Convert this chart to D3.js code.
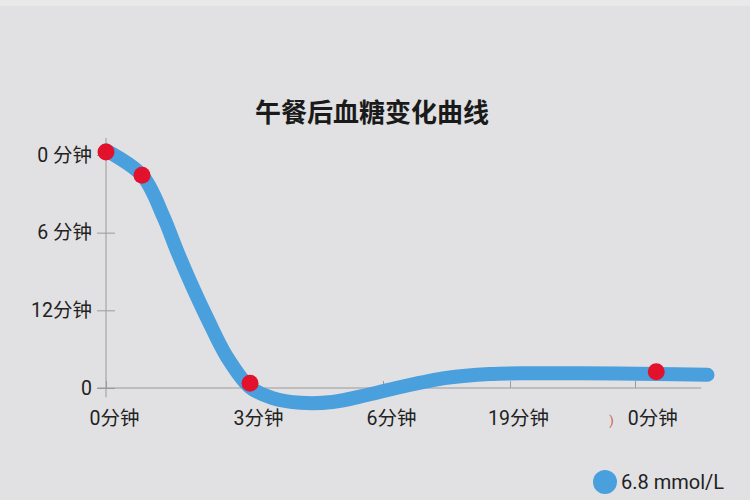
<!DOCTYPE html>
<html>
<head>
<meta charset="utf-8">
<script src="https://cdn.jsdelivr.net/npm/d3@7"></script>
<style>
  body { margin: 0; background: #e1e1e3; }
  svg { display: block; }
  text { font-family: Roboto, "Noto Sans CJK SC", sans-serif; fill: #222; }
</style>
</head>
<body>
<div id="chart"></div>
<script>
// tick labels
var xLabels = ["0分钟", "3分钟", "6分钟", "19分钟", "0分钟"];
var yLabels = ["0", "12分钟", "6 分钟", "0 分钟"];   // bottom to top

// curve (x in tick units, y in tick units)
var curveX = [0, 0.25, 0.40, 0.49, 0.58, 0.70, 0.84, 1.00, 1.17, 1.38, 1.62, 1.88, 2.13, 2.50, 2.84, 3.16, 3.56, 4.18, 4.58];
var curveY = [3.06, 2.74, 2.20, 1.78, 1.39, 0.91, 0.40, 0.01, -0.13, -0.19, -0.18, -0.09, 0.01, 0.13, 0.18, 0.19, 0.19, 0.18, 0.17];

// red markers
var dotX = [0, 0.25, 1.0, 4.17];
var dotY = [3.04, 2.74, 0.06, 0.21];

var legendLabel = "6.8 mmol/L";

var w = 750, h = 500;

var svg = d3.select("#chart").append("svg").attr("width", w).attr("height", h);

svg.append("rect").attr("width", w).attr("height", h).attr("fill", "#e1e1e3");
svg.append("rect").attr("width", w).attr("height", 6).attr("fill", "#e9e9ea");

var x = d3.scaleLinear().domain([0, 1, 2, 3, 4]).range([106, 250, 383, 510, 635]);
var y = d3.scaleLinear().domain([0, 3]).range([388, 155]);

// title
svg.append("text")
	.attr("x", 372).attr("y", 122)
	.attr("text-anchor", "middle")
	.style("font-size", "26px").style("font-weight", "bold")
	.style("font-family", "'Noto Sans CJK SC', sans-serif")
	.style("fill", "#1a1a1a")
	.text("午餐后血糖变化曲线");

// y axis
var yAxis = d3.axisLeft(y).tickValues([0, 1, 2, 3])
	.tickFormat(function(d) { return yLabels[d]; })
	.tickSize(9).tickPadding(5).tickSizeOuter(0);

var gy = svg.append("g").attr("transform", "translate(" + x(0) + ",0)").call(yAxis);
gy.select(".domain").remove();
gy.selectAll(".tick line").attr("x1", 9).attr("stroke", "#9a9a9a");
gy.selectAll(".tick text").style("font-size", "19.5px").style("fill", "#222");
gy.append("line").attr("y1", y(3.22)).attr("y2", y(-0.12)).attr("stroke", "#9a9a9a");

// x axis
var xAxis = d3.axisBottom(x).tickValues([0, 1, 2, 3, 4])
	.tickFormat(function(d) { return xLabels[d]; })
	.tickSize(-7).tickPadding(23).tickSizeOuter(0);

var gx = svg.append("g").attr("transform", "translate(0," + y(0) + ")").call(xAxis);
gx.select(".domain").remove();
gx.selectAll(".tick line").attr("stroke", "#9a9a9a");
gx.selectAll(".tick text").attr("dx", 8).style("font-size", "19.5px").style("fill", "#222");
gx.append("line").attr("x1", x(-0.06)).attr("x2", x(4.53)).attr("stroke", "#9a9a9a");

// odd little mark in front of the last label
var last = gx.selectAll(".tick text").filter(function(d) { return d === 4; });
last.text(null);
last.append("tspan").text(")").style("font-size", "13px").style("fill", "#c8604e");
last.append("tspan").attr("dx", 14).text(xLabels[4]);

// curve
var pts = curveX.map(function(d, i) { return [d, curveY[i]]; });
var line = d3.line()
	.x(function(d) { return x(d[0]); })
	.y(function(d) { return y(d[1]); })
	.curve(d3.curveCatmullRom.alpha(0.5));

svg.append("path").datum(pts)
	.attr("d", line)
	.attr("fill", "none")
	.attr("stroke", "#4a9fdd")
	.attr("stroke-width", 14)
	.attr("stroke-linecap", "round")
	.attr("stroke-linejoin", "round");

// markers
svg.append("g").selectAll("circle").data(dotX).enter().append("circle")
	.attr("cx", function(d) { return x(d); })
	.attr("cy", function(d, i) { return y(dotY[i]); })
	.attr("r", 8.5)
	.attr("fill", "#e3122c");

// legend
var lg = svg.append("g").attr("transform", "translate(605,482)");
lg.append("circle").attr("r", 12).attr("fill", "#4a9fdd");
lg.append("text").attr("x", 16).attr("y", 7).style("font-size", "20px").text(legendLabel);
</script>
</body>
</html>
